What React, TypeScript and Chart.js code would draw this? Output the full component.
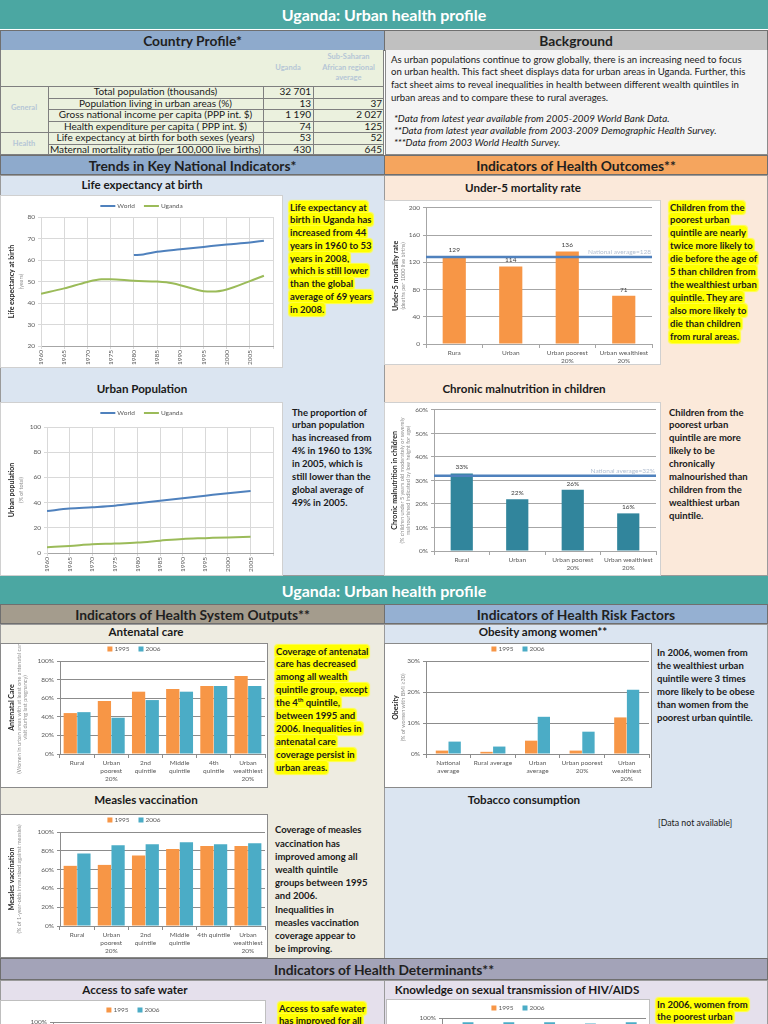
import React, { useEffect, useRef } from 'react';
import { Chart, registerables } from 'chart.js';

Chart.register(...registerables);
const FONT = 'Lato';
const FONT_CSS = 'Lato, "Open Sans", "DejaVu Sans", sans-serif';
Chart.defaults.font.family = FONT_CSS;
Chart.defaults.color = '#595959';

// ---------------- DATA ----------------
const pageTitle = 'Uganda: Urban health profile';

const profileRows = [
  'Total population (thousands)',
  'Population living in urban areas (%)',
  'Gross national income per capita (PPP int. $)',
  'Health expenditure per capita ( PPP int. $)',
  'Life expectancy at birth for both sexes (years)',
  'Maternal mortality ratio (per 100,000 live births)',
];
const profileUganda = ['32 701', '13', '1 190', '74', '53', '430'];
const profileRegion = ['', '37', '2 027', '125', '52', '645'];

const lifeUgandaYears = [1960, 1965, 1970, 1973, 1975, 1980, 1985, 1987, 1990, 1995, 1997, 2000, 2005, 2008];
const lifeUgandaValues = [44.3, 46.8, 49.8, 51, 51.1, 50.3, 50, 49.6, 48.3, 45.5, 45.3, 46.3, 50.2, 52.7];
const lifeWorldYears = [1980, 1982, 1985, 1990, 1995, 2000, 2005, 2008];
const lifeWorldValues = [62.3, 62.6, 63.8, 65, 66.1, 67.2, 68.1, 69];

const urbanYears = [1960, 1965, 1970, 1975, 1980, 1985, 1990, 1995, 2000, 2005];
const urbanWorldValues = [33.3, 35.3, 36.3, 37.5, 39.5, 41.5, 43.5, 45.5, 47.5, 49.2];
const urbanUgandaValues = [4.6, 5.6, 6.9, 7.5, 8.3, 9.8, 11.2, 11.8, 12.4, 12.8];

const u5Categories = [['Rura'], ['Urban'], ['Urban poorest', '20%'], ['Urban wealthiest', '20%']];
const u5Values = [129, 114, 136, 71];
const u5National = 128;

const stuntCategories = [['Rural'], ['Urban'], ['Urban poorest', '20%'], ['Urban wealthiest', '20%']];
const stuntValues = [33, 22, 26, 16];
const stuntNational = 32;

const surveyYears = ['1995', '2006'];
const ancCategories = [['Rural'], ['Urban', 'poorest', '20%'], ['2nd', 'quintile'], ['Middle', 'quintile'], ['4th', 'quintile'], ['Urban', 'wealthiest', '20%']];
const anc1995 = [44, 57, 67, 70, 73, 84];
const anc2006 = [45, 39, 58, 67, 73, 73];

const obesityCategories = [['National', 'average'], ['Rural average'], ['Urban', 'average'], ['Urban poorest', '20%'], ['Urban', 'wealthiest', '20%']];
const obesity1995 = [1.1, 0.7, 4.3, 1.1, 11.8];
const obesity2006 = [4, 2.4, 12, 7.2, 20.7];

const measlesCategories = [['Rural'], ['Urban', 'poorest', '20%'], ['2nd', 'quintile'], ['Middle', 'quintile'], ['4th quintile'], ['Urban', 'wealthiest', '20%']];
const measles1995 = [64, 65, 75, 82, 85, 85];
const measles2006 = [77, 86, 87, 89, 87, 88];

const waterCategories = [['Rural'], ['Urban', 'poorest', '20%'], ['2nd', 'quintile'], ['Middle', 'quintile'], ['4th quintile'], ['Urban', 'wealthiest', '20%']];
const water1995 = [40, 70, 78, 82, 86, 90];
const water2006 = [60, 82, 88, 90, 92, 94];

const hivCategories = [['National', 'average'], ['Rural average'], ['Urban', 'average'], ['Urban poorest', '20%'], ['Urban', 'wealthiest', '20%']];
const hiv1995 = [85, 84, 90, 86, 92];
const hiv2006 = [96, 96, 96, 95, 96];

// ---------------- COLOURS ----------------
const ORANGE = '#f79646';
const BLUE = '#4bacc6';
const TEAL = '#31859c';
const WORLD = '#4f81bd';
const UGANDA = '#9bbb59';

// ---------------- PLUGINS ----------------
type TitleLine = { text: string; x: number; bold?: boolean };
function yTitle(lines: TitleLine[]) {
  return {
    id: 'yTitle',
    afterDraw(chart: any) {
      const { ctx, chartArea } = chart;
      const cy = (chartArea.top + chartArea.bottom) / 2;
      for (const l of lines) {
        ctx.save();
        ctx.translate(l.x, cy);
        ctx.rotate(-Math.PI / 2);
        ctx.font = l.bold ? `bold 7px ${FONT}` : `5.5px ${FONT}`;
        ctx.fillStyle = l.bold ? '#262626' : '#8c8c8c';
        ctx.textAlign = 'center';
        ctx.textBaseline = 'middle';
        ctx.fillText(l.text, 0, 0);
        ctx.restore();
      }
    },
  };
}

function miniLegend(y: number, kind: 'box' | 'line') {
  return {
    id: 'miniLegend',
    afterDraw(chart: any) {
      const ctx = chart.ctx;
      const sets = chart.data.datasets;
      ctx.save();
      ctx.font = `6.5px ${FONT}`;
      ctx.textBaseline = 'middle';
      const mark = kind === 'line' ? 15 : 5;
      const gap = 2;
      const sep = 9;
      const widths = sets.map((d: any) => mark + gap + ctx.measureText(d.label).width);
      const total = widths.reduce((a: number, b: number) => a + b, 0) + sep * (sets.length - 1);
      let x = (chart.width - total) / 2;
      sets.forEach((d: any, i: number) => {
        if (kind === 'line') {
          ctx.strokeStyle = d.borderColor;
          ctx.lineWidth = 2;
          ctx.beginPath();
          ctx.moveTo(x, y);
          ctx.lineTo(x + mark, y);
          ctx.stroke();
        } else {
          ctx.fillStyle = d.backgroundColor;
          ctx.fillRect(x, y - 2.5, 5, 5);
        }
        ctx.fillStyle = '#595959';
        ctx.fillText(d.label, x + mark + gap, y);
        x += widths[i] + sep;
      });
      ctx.restore();
    },
  };
}

function barValues(fmt: (v: number) => string) {
  return {
    id: 'barValues',
    afterDatasetsDraw(chart: any) {
      const ctx = chart.ctx;
      const meta = chart.getDatasetMeta(0);
      const data = chart.data.datasets[0].data;
      ctx.save();
      ctx.font = `6.5px ${FONT}`;
      ctx.fillStyle = '#404040';
      ctx.textAlign = 'center';
      ctx.textBaseline = 'bottom';
      meta.data.forEach((bar: any, i: number) => {
        ctx.fillText(fmt(data[i]), bar.x, bar.y - 3);
      });
      ctx.restore();
    },
  };
}

function averageLine(value: number, label: string) {
  return {
    id: 'averageLine',
    afterDatasetsDraw(chart: any) {
      const { ctx, chartArea, scales } = chart;
      const y = scales.y.getPixelForValue(value);
      ctx.save();
      ctx.strokeStyle = WORLD;
      ctx.lineWidth = 2.5;
      ctx.beginPath();
      ctx.moveTo(chartArea.left, y);
      ctx.lineTo(chartArea.right, y);
      ctx.stroke();
      ctx.font = `6.5px ${FONT}`;
      ctx.fillStyle = '#b3bfd1';
      ctx.textAlign = 'right';
      ctx.textBaseline = 'bottom';
      ctx.fillText(label, chartArea.right - 1, y - 2);
      ctx.restore();
    },
  };
}

// ---------------- CHART CONFIG BUILDERS ----------------
type Pad = { top: number; right: number };
function lineChart(o: {
  sets: { label: string; years: number[]; values: number[]; color: string }[];
  min: number; max: number; step: number; yWidth: number; xHeight: number; pad: Pad; legendY: number; titles: TitleLine[];
}) {
  return {
    type: 'line',
    data: {
      datasets: o.sets.map((s) => ({
        label: s.label,
        data: s.years.map((x, i) => ({ x, y: s.values[i] })),
        borderColor: s.color,
        backgroundColor: s.color,
        borderWidth: 2,
        pointRadius: 0,
        cubicInterpolationMode: 'monotone',
      })),
    },
    options: {
      animation: false,
      responsive: true,
      maintainAspectRatio: false,
      layout: { padding: { left: 0, bottom: 0, top: o.pad.top, right: o.pad.right } },
      plugins: { legend: { display: false }, tooltip: { enabled: false } },
      scales: {
        x: {
          type: 'linear', min: 1960, max: 2010,
          ticks: { stepSize: 5, includeBounds: false, autoSkip: false, maxRotation: 90, minRotation: 90, font: { size: 6.5 }, padding: 1,
            callback: (v: number) => (v < 2010 ? String(v) : '') },
          grid: { color: '#d9d9d9', tickLength: 3 },
          border: { color: '#a6a6a6' },
          afterFit: (s: any) => { s.height = o.xHeight; },
        },
        y: {
          min: o.min, max: o.max,
          ticks: { stepSize: o.step, font: { size: 6.5 }, padding: 3 },
          grid: { color: '#d9d9d9', tickLength: 3 },
          border: { color: '#d9d9d9' },
          afterFit: (s: any) => { s.width = o.yWidth; },
        },
      },
    },
    plugins: [yTitle(o.titles), miniLegend(o.legendY, 'line')],
  };
}

function barChart(o: {
  labels: any[]; sets: { label: string; data: number[]; color: string }[];
  max: number; step: number; pct: boolean; yWidth: number; xHeight: number; pad: Pad;
  legendY?: number; catPct: number; barPct: number; grid: string; titles: TitleLine[]; extra?: any[];
}) {
  const plugins: any[] = [yTitle(o.titles)];
  if (o.legendY !== undefined) plugins.push(miniLegend(o.legendY, 'box'));
  return {
    type: 'bar',
    data: {
      labels: o.labels,
      datasets: o.sets.map((s) => ({
        label: s.label, data: s.data, backgroundColor: s.color, borderWidth: 0,
        categoryPercentage: o.catPct, barPercentage: o.barPct,
      })),
    },
    options: {
      animation: false,
      responsive: true,
      maintainAspectRatio: false,
      layout: { padding: { left: 0, bottom: 0, top: o.pad.top, right: o.pad.right } },
      plugins: { legend: { display: false }, tooltip: { enabled: false } },
      scales: {
        x: {
          grid: { display: true, drawOnChartArea: false, drawTicks: true, tickLength: 4, color: o.grid, offset: true },
          border: { color: o.grid },
          ticks: { font: { size: 6.5 }, maxRotation: 0, minRotation: 0, autoSkip: false, padding: 1 },
          afterFit: (s: any) => { s.height = o.xHeight; },
        },
        y: {
          min: 0, max: o.max,
          ticks: { stepSize: o.step, font: { size: 6.5 }, padding: 3, callback: (v: number) => (o.pct ? v + '%' : String(v)) },
          grid: { color: o.grid, tickLength: 3 },
          border: { color: o.grid },
          afterFit: (s: any) => { s.width = o.yWidth; },
        },
      },
    },
    plugins: plugins.concat(o.extra || []),
  };
}

// ---------------- COMPONENTS ----------------
type Box = { left: number; top: number; width: number; height: number };
function ChartBox({ box, make, border }: { box: Box; make: () => any; border?: string }) {
  const ref = useRef<HTMLCanvasElement | null>(null);
  useEffect(() => {
    const chart = new Chart(ref.current as HTMLCanvasElement, make());
    return () => chart.destroy();
  }, []);
  return (
    <div style={{ position: 'absolute', ...box, background: '#fff', border: `1px solid ${border || '#bfbfbf'}`, boxSizing: 'border-box' }}>
      <div style={{ position: 'relative', width: '100%', height: '100%' }}>
        <canvas ref={ref} />
      </div>
    </div>
  );
}

function Band({ left, top, width, height, bg, text, size = 13.8, color = '#1f1f1f', border = '#6f6f6f' }: any) {
  return (
    <div style={{ position: 'absolute', left, top, width, height, background: bg, boxSizing: 'border-box', border: border ? `1px solid ${border}` : 'none',
      display: 'flex', alignItems: 'center', justifyContent: 'center', fontWeight: 700, fontSize: size, color, whiteSpace: 'nowrap' }}>
      {text}
    </div>
  );
}

function Panel({ left, top, width, height, bg }: any) {
  return <div style={{ position: 'absolute', left, top, width, height, background: bg, boxSizing: 'border-box', border: '1px solid #9a9a9a' }} />;
}

function CTitle({ cx, cy, text }: { cx: number; cy: number; text: string }) {
  return (
    <div style={{ position: 'absolute', left: cx - 160, top: cy - 8, width: 320, height: 16, lineHeight: '16px', textAlign: 'center', fontWeight: 700, fontSize: 11.6, color: '#1a1a1a', whiteSpace: 'nowrap' }}>
      {text}
    </div>
  );
}

function Note({ left, cy, lines, hl, lh = 12.9, size = 9.5, weight = 700 }: { left: number; cy: number; lines: React.ReactNode[]; hl?: boolean; lh?: number; size?: number; weight?: number }) {
  return (
    <div style={{ position: 'absolute', left, top: cy - lh / 2, fontSize: size, lineHeight: `${lh}px`, fontWeight: weight, color: '#1a1a1a', whiteSpace: 'nowrap' }}>
      {lines.map((l, i) => (
        <div key={i}>
          {hl ? (
            <span style={{ background: '#ffff00', borderRadius: 3, padding: '1px 1px', boxShadow: '0 0 1px 1px #ffff40' }}>{l}</span>
          ) : l}
        </div>
      ))}
    </div>
  );
}

function ProfileTable() {
  const rowTop = 86;
  const rowH = 11.5;
  const line = '#7f7f7f';
  const faint = '#b5c6d6';
  const cell: any = { position: 'absolute', height: rowH, lineHeight: `${rowH}px`, fontSize: 10, color: '#1a1a1a', whiteSpace: 'nowrap' };
  return (
    <div>
      <div style={{ position: 'absolute', left: 0, top: 50, width: 384, height: 105, background: '#ebf1de', boxSizing: 'border-box', border: `1px solid ${line}`, borderTop: 'none' }} />
      <div style={{ position: 'absolute', left: 263, width: 50, top: 63, textAlign: 'center', fontSize: 7.5, fontWeight: 700, color: faint }}>Uganda</div>
      <div style={{ position: 'absolute', left: 313, width: 71, top: 52, textAlign: 'center', fontSize: 7.5, lineHeight: '10.5px', fontWeight: 700, color: faint }}>
        Sub-Saharan<br />African regional<br />average
      </div>
      <div style={{ ...cell, left: 0, width: 48, top: 102, textAlign: 'center', color: faint, fontWeight: 700, fontSize: 7.5 }}>General</div>
      <div style={{ ...cell, left: 0, width: 48, top: 137.5, textAlign: 'center', color: faint, fontWeight: 700, fontSize: 7.5 }}>Health</div>
      {profileRows.map((r, i) => (
        <React.Fragment key={i}>
          <div style={{ ...cell, left: 48, width: 215, top: rowTop + i * rowH, textAlign: 'center' }}>{r}</div>
          <div style={{ ...cell, left: 263, width: 48, top: rowTop + i * rowH, textAlign: 'right' }}>{profileUganda[i]}</div>
          <div style={{ ...cell, left: 313, width: 69, top: rowTop + i * rowH, textAlign: 'right' }}>{profileRegion[i]}</div>
        </React.Fragment>
      ))}
      {[0, 1, 2, 3, 4, 5].map((i) => (
        <div key={'h' + i} style={{ position: 'absolute', left: i === 0 || i === 4 ? 0 : 48, width: i === 0 || i === 4 ? 384 : 336, top: Math.round(rowTop + i * rowH), height: 1, background: line }} />
      ))}
      {[48, 263, 313].map((x) => (
        <div key={'v' + x} style={{ position: 'absolute', left: x, top: rowTop, width: 1, height: 155 - rowTop, background: line }} />
      ))}
    </div>
  );
}

// ---------------- APP ----------------
export default function App() {
  useEffect(() => {
    document.body.style.margin = '0';
  }, []);

  return (
    <div style={{ position: 'absolute', left: 0, top: 0, width: 768, height: 1024, overflow: 'hidden', background: '#ffffff', fontFamily: FONT_CSS, color: '#1a1a1a' }}>
      {/* top banner */}
      <Band left={0} top={0} width={768} height={29} bg="#4ba7a2" text={pageTitle} size={16} color="#ffffff" border={null} />

      {/* country profile / background */}
      <Band left={0} top={30} width={385} height={21} bg="#8eaacc" text="Country Profile*" />
      <Band left={384} top={30} width={384} height={21} bg="#c0c0c0" text="Background" />
      <ProfileTable />
      <div style={{ position: 'absolute', left: 385, top: 50, width: 383, height: 105, background: '#f4f4f4', boxSizing: 'border-box', border: '1px solid #8a8a8a', borderTop: 'none' }} />
      <div style={{ position: 'absolute', left: 391, top: 53.5, fontSize: 9.6, lineHeight: '12.7px', whiteSpace: 'nowrap', color: '#1a1a1a' }}>
        <div>As urban populations continue to grow globally, there is an increasing need to focus</div>
        <div>on urban health. This fact sheet displays data for urban areas in Uganda. Further, this</div>
        <div>fact sheet aims to reveal inequalities in health between different wealth quintiles in</div>
        <div>urban areas and to compare these to rural averages.</div>
      </div>
      <div style={{ position: 'absolute', left: 394, top: 112, fontSize: 9.8, lineHeight: '12px', whiteSpace: 'nowrap', fontStyle: 'italic', color: '#1a1a1a' }}>
        <div>*Data from latest year available from 2005-2009 World Bank Data.</div>
        <div>**Data from latest year available from 2003-2009 Demographic Health Survey.</div>
        <div>***Data from 2003 World Health Survey.</div>
      </div>

      {/* section 1 headers */}
      <Band left={0} top={155} width={385} height={20} bg="#8eaacc" text="Trends in Key National Indicators*" />
      <Band left={384} top={155} width={384} height={20} bg="#f5a55e" text="Indicators of Health Outcomes**" />
      <Panel left={0} top={175} width={385} height={401} bg="#dbe5f1" />
      <Panel left={384} top={175} width={384} height={401} bg="#fbe9da" />

      <CTitle cx={142} cy={185} text="Life expectancy at birth" />
      <ChartBox box={{ left: 0, top: 195, width: 283, height: 173 }} border="#d0d0d0" make={() => lineChart({
        sets: [
          { label: 'World', years: lifeWorldYears, values: lifeWorldValues, color: WORLD },
          { label: 'Uganda', years: lifeUgandaYears, values: lifeUgandaValues, color: UGANDA },
        ],
        min: 20, max: 80, step: 10, yWidth: 40, xHeight: 21, pad: { top: 21, right: 7 }, legendY: 10,
        titles: [{ text: 'Life expectancy at birth', x: 11, bold: true }, { text: '(years)', x: 20 }],
      })} />
      <Note left={289} cy={208} lh={12.75} hl lines={['Life expectancy at', 'birth in Uganda has', 'increased from 44', 'years in 1960 to 53', 'years in 2008,', 'which is still lower', 'than the global', 'average of 69 years', 'in 2008.']} />

      <CTitle cx={523} cy={188} text="Under-5 mortality rate" />
      <ChartBox box={{ left: 384, top: 200, width: 277, height: 165 }} border="#d0d0d0" make={() => barChart({
        labels: u5Categories, sets: [{ label: 'Under-5 mortality rate', data: u5Values, color: ORANGE }],
        max: 200, step: 40, pct: false, yWidth: 41, xHeight: 20, pad: { top: 6, right: 8 },
        catPct: 1, barPct: 0.41, grid: '#a6a6a6',
        titles: [{ text: 'Under-5 mortality rate', x: 11, bold: true }, { text: '(deaths per 1000 live births)', x: 18 }],
        extra: [barValues((v) => String(v)), averageLine(u5National, `National average=${u5National}`)],
      })} />
      <Note left={669} cy={208} lines={['Children from the', 'poorest urban', 'quintile are nearly', 'twice more likely to', 'die before the age of', '5 than children from', 'the wealthiest urban', 'quintile. They are', 'also more likely to', 'die than children', 'from rural areas.']} hl />

      <CTitle cx={142} cy={389} text="Urban Population" />
      <ChartBox box={{ left: 0, top: 402, width: 283, height: 174 }} border="#d0d0d0" make={() => lineChart({
        sets: [
          { label: 'World', years: urbanYears, values: urbanWorldValues, color: WORLD },
          { label: 'Uganda', years: urbanYears, values: urbanUgandaValues, color: UGANDA },
        ],
        min: 0, max: 100, step: 20, yWidth: 46, xHeight: 22, pad: { top: 24, right: 5 }, legendY: 10,
        titles: [{ text: 'Urban population', x: 11, bold: true }, { text: '(% of total)', x: 20 }],
      })} />
      <Note left={292} cy={413} lines={['The proportion of', 'urban population', 'has increased from', '4% in 1960 to 13%', 'in 2005, which is', 'still lower than the', 'global average of', '49% in 2005.']} />

      <CTitle cx={524} cy={389} text="Chronic malnutrition in children" />
      <ChartBox box={{ left: 384, top: 402, width: 277, height: 174 }} border="#d0d0d0" make={() => barChart({
        labels: stuntCategories, sets: [{ label: 'Chronic malnutrition', data: stuntValues, color: TEAL }],
        max: 60, step: 10, pct: true, yWidth: 49, xHeight: 24, pad: { top: 5, right: 4 },
        catPct: 1, barPct: 0.4, grid: '#a6a6a6',
        titles: [
          { text: 'Chronic malnutrition in children', x: 10, bold: true },
          { text: '(% children under 5 years old moderately or severely', x: 17 },
          { text: 'malnourished indicated by low height for age)', x: 23 },
        ],
        extra: [barValues((v) => v + '%'), averageLine(stuntNational, `National average=${stuntNational}%`)],
      })} />
      <Note left={669} cy={413} lines={['Children from the', 'poorest urban', 'quintile are more', 'likely to be', 'chronically', 'malnourished than', 'children from the', 'wealthiest urban', 'quintile.']} />

      {/* second banner */}
      <Band left={0} top={576} width={768} height={28} bg="#4ba7a2" text={pageTitle} size={16} color="#ffffff" border={null} />
      <Band left={0} top={604} width={385} height={20} bg="#a49c8d" text="Indicators of Health System Outputs**" />
      <Band left={384} top={604} width={384} height={20} bg="#95b0d2" text="Indicators of Health Risk Factors" />
      <Panel left={0} top={624} width={385} height={335} bg="#eeece1" />
      <Panel left={384} top={624} width={384} height={335} bg="#dbe5f1" />

      <CTitle cx={146} cy={632} text="Antenatal care" />
      <ChartBox box={{ left: 0, top: 643, width: 268, height: 145 }} border="#8a8a8a" make={() => barChart({
        labels: ancCategories, sets: [{ label: surveyYears[0], data: anc1995, color: ORANGE }, { label: surveyYears[1], data: anc2006, color: BLUE }],
        max: 100, step: 20, pct: true, yWidth: 59, xHeight: 33, pad: { top: 17, right: 2 }, legendY: 5,
        catPct: 0.8, barPct: 0.97, grid: '#8c8c8c',
        titles: [
          { text: 'Antenatal Care', x: 11, bold: true },
          { text: '(Women in urban areas with at least one antenatal care', x: 18 },
          { text: 'visit during last pregnancy)', x: 24 },
        ],
      })} />
      <Note left={275} cy={652} hl lines={['Coverage of antenatal', 'care has decreased', 'among all wealth', 'quintile group, except', <>the 4<sup style={{ fontSize: 6, lineHeight: 0 }}>th</sup> quintile,</>, 'between 1995 and', '2006. Inequalities in', 'antenatal care', 'coverage persist in', 'urban areas.']} />

      <CTitle cx={543} cy={632} text="Obesity among women**" />
      <ChartBox box={{ left: 384, top: 643, width: 268, height: 145 }} border="#8a8a8a" make={() => barChart({
        labels: obesityCategories, sets: [{ label: surveyYears[0], data: obesity1995, color: ORANGE }, { label: surveyYears[1], data: obesity2006, color: BLUE }],
        max: 30, step: 10, pct: true, yWidth: 41, xHeight: 33, pad: { top: 17, right: 2 }, legendY: 5,
        catPct: 0.57, barPct: 0.97, grid: '#8c8c8c',
        titles: [{ text: 'Obesity', x: 11, bold: true }, { text: '(% of women with BMI ≥30)', x: 18 }],
      })} />
      <Note left={657} cy={652} lh={13} lines={['In 2006, women from', 'the wealthiest urban', 'quintile were 3 times', 'more likely to be obese', 'than women from the', 'poorest urban quintile.']} />

      <CTitle cx={146} cy={800} text="Measles vaccination" />
      <ChartBox box={{ left: 0, top: 814, width: 268, height: 144 }} border="#8a8a8a" make={() => barChart({
        labels: measlesCategories, sets: [{ label: surveyYears[0], data: measles1995, color: ORANGE }, { label: surveyYears[1], data: measles2006, color: BLUE }],
        max: 100, step: 20, pct: true, yWidth: 59, xHeight: 31, pad: { top: 17, right: 2 }, legendY: 5,
        catPct: 0.8, barPct: 0.97, grid: '#8c8c8c',
        titles: [{ text: 'Measles vaccination', x: 11, bold: true }, { text: '(% of 1-year-olds immunized against measles)', x: 18 }],
      })} />
      <Note left={275} cy={830} lh={13.2} lines={['Coverage of measles', 'vaccination has', 'improved among all', 'wealth quintile', 'groups between 1995', 'and 2006.', 'Inequalities in', 'measles vaccination', 'coverage appear to', 'be improving.']} />

      <CTitle cx={524} cy={800} text="Tobacco consumption" />
      <div style={{ position: 'absolute', left: 658, top: 817, fontSize: 8.8, lineHeight: '12px', color: '#1a1a1a', whiteSpace: 'nowrap' }}>[Data not available]</div>

      {/* bottom section */}
      <Band left={0} top={958} width={768} height={22} bg="#a3a3b8" text="Indicators of Health Determinants**" />
      <Panel left={0} top={980} width={385} height={60} bg="#e5e0ec" />
      <Panel left={384} top={980} width={384} height={60} bg="#e5e0ec" />

      <CTitle cx={135} cy={990} text="Access to safe water" />
      <ChartBox box={{ left: 0, top: 1000, width: 266, height: 160 }} border="#bfbfbf" make={() => barChart({
        labels: waterCategories, sets: [{ label: surveyYears[0], data: water1995, color: ORANGE }, { label: surveyYears[1], data: water2006, color: BLUE }],
        max: 100, step: 20, pct: true, yWidth: 52, xHeight: 32, pad: { top: 21, right: 3 }, legendY: 9,
        catPct: 0.8, barPct: 0.97, grid: '#8c8c8c',
        titles: [{ text: 'Access to safe water', x: 11, bold: true }, { text: '(% of households)', x: 18 }],
      })} />
      <Note left={278} cy={1009} lh={12.5} hl lines={['Access to safe water', 'has improved for all']} />

      <CTitle cx={517} cy={990} text="Knowledge on sexual transmission of HIV/AIDS" />
      <ChartBox box={{ left: 386, top: 999, width: 264, height: 160 }} border="#bfbfbf" make={() => barChart({
        labels: hivCategories, sets: [{ label: surveyYears[0], data: hiv1995, color: ORANGE }, { label: surveyYears[1], data: hiv2006, color: BLUE }],
        max: 100, step: 20, pct: true, yWidth: 55, xHeight: 32, pad: { top: 18, right: 3 }, legendY: 8,
        catPct: 0.55, barPct: 0.97, grid: '#8c8c8c',
        titles: [{ text: 'Knowledge of HIV/AIDS', x: 8, bold: true }, { text: '(% of women)', x: 16 }],
      })} />
      <Note left={656} cy={1005} lh={12.8} hl lines={['In 2006, women from', 'the poorest urban']} />
    </div>
  );
}
